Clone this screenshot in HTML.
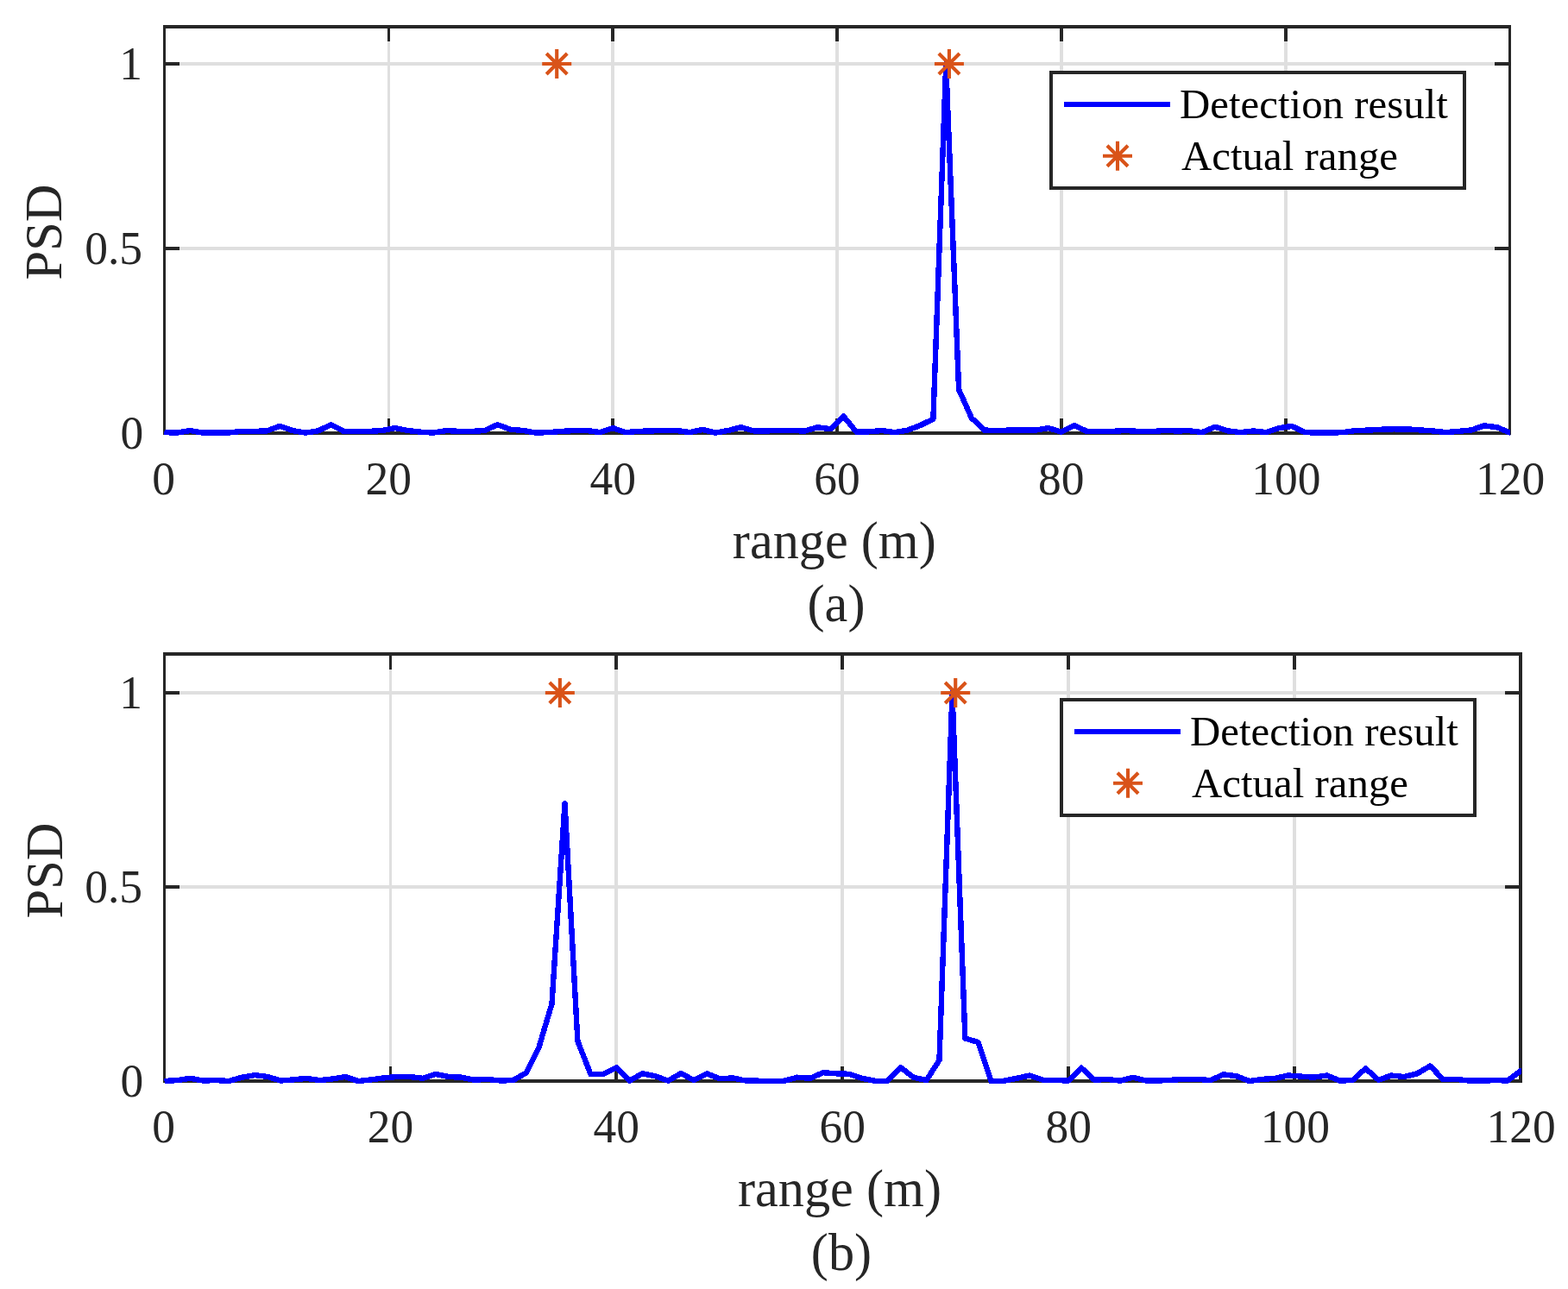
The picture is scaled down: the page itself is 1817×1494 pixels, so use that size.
<!DOCTYPE html>
<html lang="en">
<head>
<meta charset="utf-8">
<title>Range detection PSD</title>
<style>
html,body{margin:0;padding:0;background:#fff;}
body{width:1817px;height:1494px;overflow:hidden;}
svg{display:block;font-family:"Liberation Serif", "DejaVu Serif", serif;}
text{white-space:pre;}
</style>
</head>
<body>
<svg width="1817" height="1494" viewBox="0 0 1817 1494">
<rect width="1817" height="1494" fill="#fff"/>
<g id="plot-a">
<g class="grid" shape-rendering="crispEdges">
<rect x="449" y="29" width="3" height="475" fill="#dfdfdf"/>
<rect x="708" y="29" width="4" height="475" fill="#dfdfdf"/>
<rect x="968" y="29" width="4" height="475" fill="#dfdfdf"/>
<rect x="1228" y="29" width="4" height="475" fill="#dfdfdf"/>
<rect x="1488" y="29" width="4" height="475" fill="#dfdfdf"/>
<rect x="189" y="72" width="1562" height="4" fill="#dfdfdf"/>
<rect x="189" y="286" width="1562" height="4" fill="#dfdfdf"/>
</g>
<g class="axes" shape-rendering="crispEdges">
<rect x="449" y="29" width="3" height="19" fill="#262626"/>
<rect x="449" y="485" width="3" height="19" fill="#262626"/>
<rect x="708" y="29" width="4" height="19" fill="#262626"/>
<rect x="708" y="485" width="4" height="19" fill="#262626"/>
<rect x="968" y="29" width="4" height="19" fill="#262626"/>
<rect x="968" y="485" width="4" height="19" fill="#262626"/>
<rect x="1228" y="29" width="4" height="19" fill="#262626"/>
<rect x="1228" y="485" width="4" height="19" fill="#262626"/>
<rect x="1488" y="29" width="4" height="19" fill="#262626"/>
<rect x="1488" y="485" width="4" height="19" fill="#262626"/>
<rect x="189" y="72" width="19" height="4" fill="#262626"/>
<rect x="1732" y="72" width="19" height="4" fill="#262626"/>
<rect x="189" y="286" width="19" height="4" fill="#262626"/>
<rect x="1732" y="286" width="19" height="4" fill="#262626"/>
<rect x="189" y="29" width="1562" height="4" fill="#262626"/>
<rect x="189" y="500" width="1562" height="4" fill="#262626"/>
<rect x="189" y="29" width="3" height="475" fill="#262626"/>
<rect x="1748" y="29" width="3" height="475" fill="#262626"/>
</g>
<clipPath id="clip-a"><rect x="189" y="19" width="1561.1" height="495"/></clipPath>
<polyline clip-path="url(#clip-a)" points="190.5,501.1 205.3,501.6 220.2,499.0 235.0,501.6 249.9,501.6 264.7,501.6 279.6,499.9 294.4,499.9 309.3,499.4 324.1,493.9 339.0,499.0 353.8,501.6 368.7,499.4 383.5,492.2 398.4,499.9 413.2,499.9 428.1,499.9 442.9,499.0 457.8,496.1 472.6,499.0 487.5,500.7 502.3,501.6 517.1,499.0 532.0,499.9 546.8,499.9 561.7,499.0 576.5,492.2 591.4,497.7 606.2,499.0 621.1,501.6 635.9,501.1 650.8,499.9 665.6,499.0 680.5,499.0 695.3,501.1 710.2,496.1 725.0,501.1 739.9,499.9 754.7,499.4 769.6,499.0 784.4,499.0 799.3,501.1 814.1,497.9 828.9,501.6 843.8,499.0 858.6,495.2 873.5,499.4 888.3,499.4 903.2,499.0 918.0,499.2 932.9,499.4 947.7,495.2 962.6,497.3 977.4,482.3 992.3,500.7 1007.1,500.3 1022.0,499.0 1036.8,501.1 1051.7,498.6 1066.5,493.0 1081.4,485.7 1096.2,74.0 1111.1,451.5 1125.9,484.5 1140.7,498.6 1155.6,499.0 1170.4,498.6 1185.3,498.6 1200.1,498.6 1215.0,496.1 1229.8,500.7 1244.7,493.0 1259.5,499.9 1274.4,500.3 1289.2,499.9 1304.1,499.0 1318.9,499.9 1333.8,500.3 1348.6,499.0 1363.5,499.4 1378.3,499.2 1393.2,501.1 1408.0,494.7 1422.9,499.4 1437.7,501.1 1452.5,499.4 1467.4,501.1 1482.2,496.1 1497.1,493.9 1511.9,501.1 1526.8,501.6 1541.6,501.6 1556.5,501.1 1571.3,499.0 1586.2,498.6 1601.0,497.7 1615.9,497.3 1630.7,497.3 1645.6,498.4 1660.4,499.4 1675.3,501.1 1690.1,499.9 1705.0,498.4 1719.8,493.4 1734.7,495.2 1749.5,501.4 1764.3,502.0" fill="none" stroke="#0000ff" stroke-width="6.4" stroke-linejoin="round" stroke-linecap="butt" shape-rendering="crispEdges"/>
<path d="M628.21 74.00H662.21M645.21 57.00V91.00M633.19 61.98L657.23 86.02M633.19 86.02L657.23 61.98" fill="none" stroke="#d95319" stroke-width="4.1"/>
<path d="M1082.92 74.00H1116.92M1099.92 57.00V91.00M1087.90 61.98L1111.94 86.02M1087.90 86.02L1111.94 61.98" fill="none" stroke="#d95319" stroke-width="4.1"/>
<g class="legend">
<g shape-rendering="crispEdges"><rect x="1216" y="82" width="483" height="138" fill="#262626"/><rect x="1220" y="86" width="475" height="130" fill="#fff"/><rect x="1233" y="118" width="123" height="6" fill="#0000ff"/></g>
<path d="M1278.00 180.80H1312.00M1295.00 163.80V197.80M1282.98 168.78L1307.02 192.82M1282.98 192.82L1307.02 168.78" fill="none" stroke="#d95319" stroke-width="4.1"/>
<text transform="translate(1367.00 136.90) scale(1.008 1)" font-size="48.5" text-anchor="start" fill="#000">Detection result</text>
<text transform="translate(1369.00 196.90) scale(1.008 1)" font-size="48.5" text-anchor="start" fill="#000">Actual range</text>
</g>
<g class="ticklabels">
<text transform="translate(189.50 573.00) scale(0.99 1)" font-size="54" text-anchor="middle" fill="#262626">0</text>
<text transform="translate(450.33 573.00) scale(0.99 1)" font-size="54" text-anchor="middle" fill="#262626">20</text>
<text transform="translate(710.17 573.00) scale(0.99 1)" font-size="54" text-anchor="middle" fill="#262626">40</text>
<text transform="translate(970.00 573.00) scale(0.99 1)" font-size="54" text-anchor="middle" fill="#262626">60</text>
<text transform="translate(1229.83 573.00) scale(0.99 1)" font-size="54" text-anchor="middle" fill="#262626">80</text>
<text transform="translate(1490.37 573.00) scale(0.99 1)" font-size="54" text-anchor="middle" fill="#262626">100</text>
<text transform="translate(1750.20 573.00) scale(0.99 1)" font-size="54" text-anchor="middle" fill="#262626">120</text>
<text transform="translate(166.20 520.00) scale(0.99 1)" font-size="54" text-anchor="end" fill="#262626">0</text>
<text transform="translate(165.00 306.00) scale(0.99 1)" font-size="54" text-anchor="end" fill="#262626">0.5</text>
<text transform="translate(165.00 92.00) scale(0.99 1)" font-size="54" text-anchor="end" fill="#262626">1</text>
</g>
<text transform="translate(966.80 646.50) scale(0.985 1)" font-size="61.2" text-anchor="middle" fill="#262626">range (m)</text>
<text transform="translate(969.00 720.20) scale(0.985 1)" font-size="61.2" text-anchor="middle" fill="#262626">(a)</text>
<text transform="translate(70.90 269.00) rotate(-90) scale(0.975 1)" font-size="62" text-anchor="middle" fill="#262626">PSD</text>
</g>
<g id="plot-b">
<g class="grid" shape-rendering="crispEdges">
<rect x="451" y="756" width="3" height="499" fill="#dfdfdf"/>
<rect x="712" y="756" width="4" height="499" fill="#dfdfdf"/>
<rect x="974" y="756" width="4" height="499" fill="#dfdfdf"/>
<rect x="1236" y="756" width="4" height="499" fill="#dfdfdf"/>
<rect x="1498" y="756" width="4" height="499" fill="#dfdfdf"/>
<rect x="189" y="801" width="1575" height="4" fill="#dfdfdf"/>
<rect x="189" y="1026" width="1575" height="4" fill="#dfdfdf"/>
</g>
<g class="axes" shape-rendering="crispEdges">
<rect x="451" y="756" width="3" height="20" fill="#262626"/>
<rect x="451" y="1236" width="3" height="19" fill="#262626"/>
<rect x="712" y="756" width="4" height="20" fill="#262626"/>
<rect x="712" y="1236" width="4" height="19" fill="#262626"/>
<rect x="974" y="756" width="4" height="20" fill="#262626"/>
<rect x="974" y="1236" width="4" height="19" fill="#262626"/>
<rect x="1236" y="756" width="4" height="20" fill="#262626"/>
<rect x="1236" y="1236" width="4" height="19" fill="#262626"/>
<rect x="1498" y="756" width="4" height="20" fill="#262626"/>
<rect x="1498" y="1236" width="4" height="19" fill="#262626"/>
<rect x="189" y="801" width="19" height="4" fill="#262626"/>
<rect x="1744" y="801" width="20" height="4" fill="#262626"/>
<rect x="189" y="1026" width="19" height="4" fill="#262626"/>
<rect x="1744" y="1026" width="20" height="4" fill="#262626"/>
<rect x="189" y="756" width="1575" height="4" fill="#262626"/>
<rect x="189" y="1251" width="1575" height="4" fill="#262626"/>
<rect x="189" y="756" width="3" height="499" fill="#262626"/>
<rect x="1760" y="756" width="4" height="499" fill="#262626"/>
</g>
<clipPath id="clip-b"><rect x="189" y="746" width="1574.1" height="519"/></clipPath>
<polyline clip-path="url(#clip-b)" points="190.5,1253.0 205.5,1252.1 220.4,1249.8 235.4,1252.5 250.4,1252.1 265.3,1253.0 280.3,1248.7 295.3,1246.1 310.2,1248.0 325.2,1252.5 340.2,1251.4 355.1,1249.8 370.1,1252.1 385.1,1250.5 400.0,1248.0 415.0,1253.0 430.0,1251.4 444.9,1249.4 459.9,1248.0 474.9,1248.0 489.8,1249.8 504.8,1245.0 519.8,1248.0 534.7,1248.7 549.7,1251.7 564.7,1250.9 579.6,1252.5 594.6,1252.1 609.6,1243.5 624.5,1213.8 639.5,1163.5 654.5,931.2 669.4,1206.7 684.4,1244.9 699.4,1244.9 714.3,1237.2 729.3,1252.7 744.3,1244.3 759.2,1247.2 774.2,1252.7 789.2,1244.0 804.1,1252.1 819.1,1244.3 834.1,1250.3 849.0,1249.4 864.0,1252.5 879.0,1252.7 893.9,1252.7 908.9,1252.7 923.9,1248.7 938.8,1249.8 953.8,1243.2 968.8,1244.3 983.7,1244.8 998.7,1249.8 1013.7,1252.7 1028.6,1252.7 1043.6,1237.2 1058.6,1248.7 1073.5,1252.1 1088.5,1228.7 1103.5,803.0 1118.4,1203.5 1133.4,1208.0 1148.4,1253.0 1163.3,1252.7 1178.3,1249.8 1193.3,1246.5 1208.2,1251.7 1223.2,1252.1 1238.2,1252.5 1253.1,1237.7 1268.1,1251.7 1283.1,1250.9 1298.0,1252.7 1313.0,1248.7 1328.0,1252.5 1342.9,1252.5 1357.9,1251.7 1372.9,1250.9 1387.8,1250.9 1402.8,1252.1 1417.8,1245.4 1432.7,1247.2 1447.7,1253.0 1462.7,1250.9 1477.6,1249.8 1492.6,1246.5 1507.6,1247.6 1522.5,1248.7 1537.5,1246.5 1552.5,1252.5 1567.4,1252.1 1582.4,1238.4 1597.4,1251.7 1612.3,1246.5 1627.3,1248.0 1642.3,1244.3 1657.2,1235.5 1672.2,1250.9 1687.2,1250.9 1702.1,1252.5 1717.1,1252.7 1732.1,1252.1 1747.0,1252.5 1762.0,1241.2 1777.0,1240.8" fill="none" stroke="#0000ff" stroke-width="6.4" stroke-linejoin="round" stroke-linecap="butt" shape-rendering="crispEdges"/>
<path d="M631.85 803.00H665.85M648.85 786.00V820.00M636.83 790.98L660.87 815.02M636.83 815.02L660.87 790.98" fill="none" stroke="#d95319" stroke-width="4.1"/>
<path d="M1090.21 803.00H1124.21M1107.21 786.00V820.00M1095.19 790.98L1119.23 815.02M1095.19 815.02L1119.23 790.98" fill="none" stroke="#d95319" stroke-width="4.1"/>
<g class="legend">
<g shape-rendering="crispEdges"><rect x="1228" y="809" width="483" height="138" fill="#262626"/><rect x="1232" y="813" width="475" height="130" fill="#fff"/><rect x="1245" y="845" width="123" height="6" fill="#0000ff"/></g>
<path d="M1290.00 907.80H1324.00M1307.00 890.80V924.80M1294.98 895.78L1319.02 919.82M1294.98 919.82L1319.02 895.78" fill="none" stroke="#d95319" stroke-width="4.1"/>
<text transform="translate(1379.00 863.90) scale(1.008 1)" font-size="48.5" text-anchor="start" fill="#000">Detection result</text>
<text transform="translate(1381.00 923.90) scale(1.008 1)" font-size="48.5" text-anchor="start" fill="#000">Actual range</text>
</g>
<g class="ticklabels">
<text transform="translate(189.50 1324.00) scale(0.99 1)" font-size="54" text-anchor="middle" fill="#262626">0</text>
<text transform="translate(452.42 1324.00) scale(0.99 1)" font-size="54" text-anchor="middle" fill="#262626">20</text>
<text transform="translate(714.33 1324.00) scale(0.99 1)" font-size="54" text-anchor="middle" fill="#262626">40</text>
<text transform="translate(976.25 1324.00) scale(0.99 1)" font-size="54" text-anchor="middle" fill="#262626">60</text>
<text transform="translate(1238.17 1324.00) scale(0.99 1)" font-size="54" text-anchor="middle" fill="#262626">80</text>
<text transform="translate(1500.78 1324.00) scale(0.99 1)" font-size="54" text-anchor="middle" fill="#262626">100</text>
<text transform="translate(1762.70 1324.00) scale(0.99 1)" font-size="54" text-anchor="middle" fill="#262626">120</text>
<text transform="translate(166.20 1271.00) scale(0.99 1)" font-size="54" text-anchor="end" fill="#262626">0</text>
<text transform="translate(165.00 1046.00) scale(0.99 1)" font-size="54" text-anchor="end" fill="#262626">0.5</text>
<text transform="translate(165.00 821.00) scale(0.99 1)" font-size="54" text-anchor="end" fill="#262626">1</text>
</g>
<text transform="translate(973.00 1398.10) scale(0.985 1)" font-size="61.2" text-anchor="middle" fill="#262626">range (m)</text>
<text transform="translate(975.00 1471.80) scale(0.985 1)" font-size="61.2" text-anchor="middle" fill="#262626">(b)</text>
<text transform="translate(72.00 1009.00) rotate(-90) scale(0.975 1)" font-size="62" text-anchor="middle" fill="#262626">PSD</text>
</g>
</svg>
</body>
</html>
